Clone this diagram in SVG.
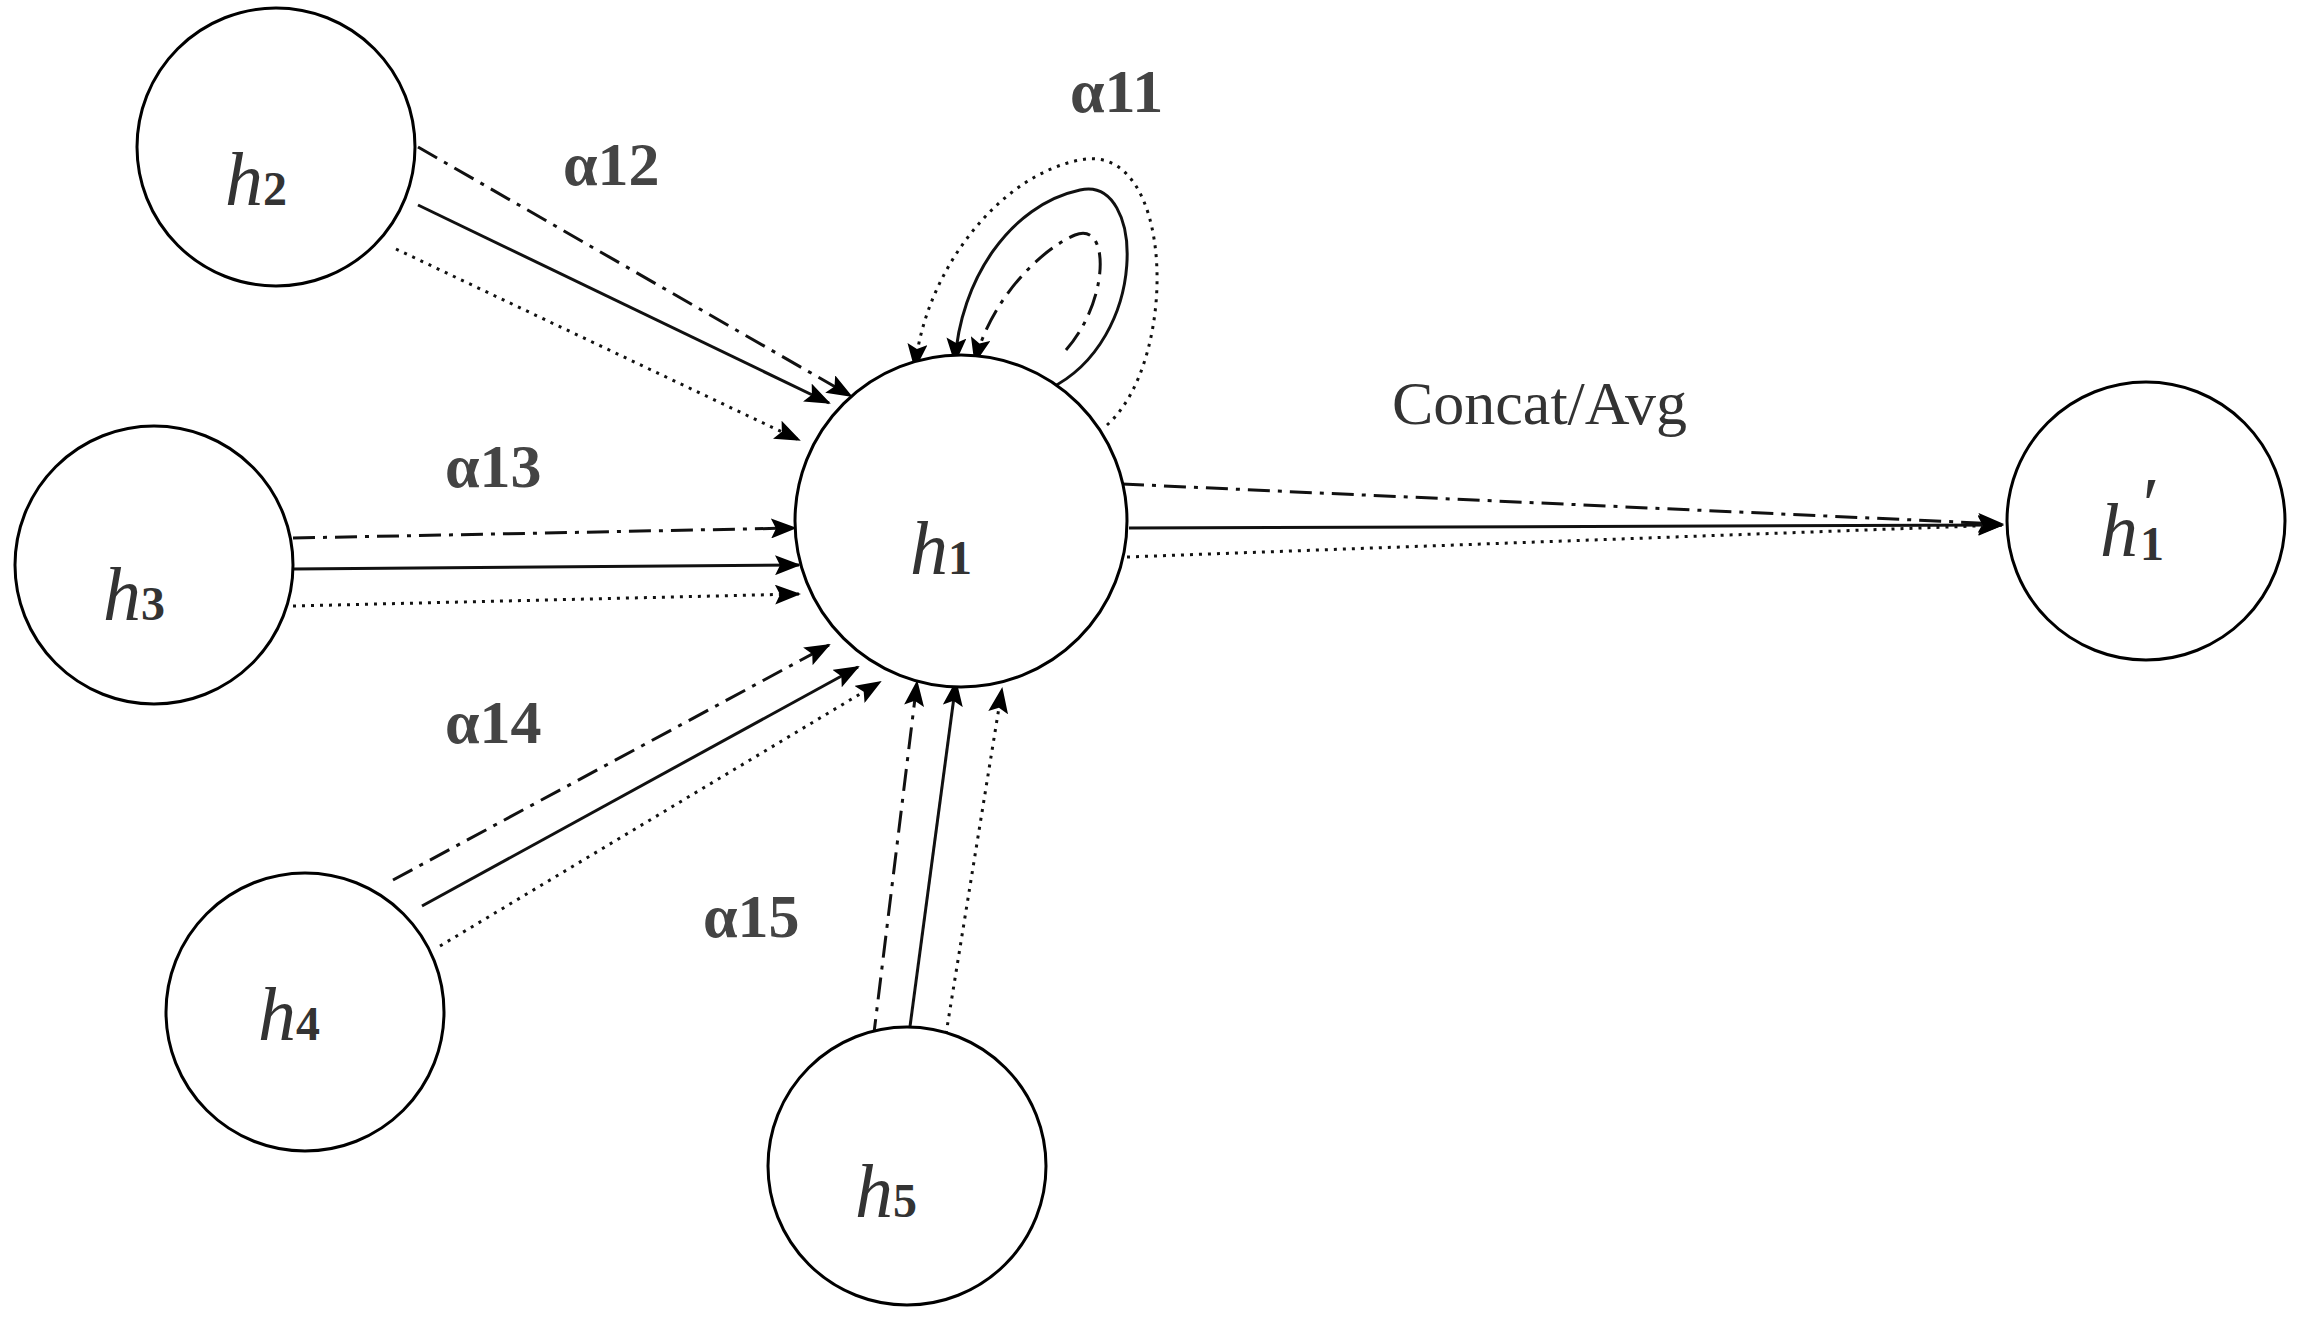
<svg xmlns="http://www.w3.org/2000/svg" width="2300" height="1331" viewBox="0 0 2300 1331">
<style>
.n{fill:#fff;stroke:#000;stroke-width:3}
.e{fill:none;stroke:#111;stroke-width:3}
.dd{stroke-dasharray:22 8 4 8}
.dt{stroke-dasharray:3 6}
.lbl{font-family:"Liberation Serif",serif;fill:#333;font-size:62px}
.h{font-family:"Liberation Serif",serif;font-style:italic;font-size:76px;fill:#333}
.s{font-family:"Liberation Serif",serif;font-style:normal;font-weight:bold;font-size:48px;fill:#333}
.a{font-family:"Liberation Serif",serif;font-size:62px;fill:#444;font-weight:bold}
</style>
<defs>
<marker id="ar" markerWidth="26" markerHeight="20" refX="24" refY="10" orient="auto" markerUnits="userSpaceOnUse" viewBox="0 0 26 20"><path d="M0,0 L26,10 L0,20 L5,10 z" fill="#000"/></marker>
</defs>
<g id="connectors">
<path class="e dd" d="M418,147 L851,396" marker-end="url(#ar)"/>
<path class="e" d="M418,205 L829,403" marker-end="url(#ar)"/>
<path class="e dt" d="M396,249 L799,440" marker-end="url(#ar)"/>
<path class="e dd" d="M293,538 L795,528" marker-end="url(#ar)"/>
<path class="e" d="M293,569 L799,565" marker-end="url(#ar)"/>
<path class="e dt" d="M293,606 L799,594" marker-end="url(#ar)"/>
<path class="e dd" d="M393,880 L829,645" marker-end="url(#ar)"/>
<path class="e" d="M422,906 L858,667" marker-end="url(#ar)"/>
<path class="e dt" d="M440,946 L880,682" marker-end="url(#ar)"/>
<path class="e dd" d="M873,1041 L917,682" marker-end="url(#ar)"/>
<path class="e" d="M909,1034 L956,682" marker-end="url(#ar)"/>
<path class="e dt" d="M946,1034 L1002,689" marker-end="url(#ar)"/>
<path class="e dd" d="M1122,484 L2002,524" marker-end="url(#ar)"/>
<path class="e" d="M1129,528 L2002,525" marker-end="url(#ar)"/>
<path class="e dt" d="M1127,557 L2002,525" marker-end="url(#ar)"/>
<path class="e" d="M1049,389 C1150,340 1145,175 1080,190 C1010,205 960,280 955,362" marker-end="url(#ar)"/>
<path class="e dd" d="M1066,350 C1110,300 1110,220 1075,235 C1040,250 990,300 975,362" marker-end="url(#ar)"/>
<path class="e dt" d="M1107,425 C1180,360 1175,140 1080,160 C1000,175 925,270 915,368" marker-end="url(#ar)"/>
</g>
<g id="h2"><circle class="n" cx="276" cy="147" r="139"/><text class="h" x="225" y="205">h<tspan class="s">2</tspan></text></g>
<g id="h3"><circle class="n" cx="154" cy="565" r="139"/><text class="h" x="103" y="620">h<tspan class="s">3</tspan></text></g>
<g id="h4"><circle class="n" cx="305" cy="1012" r="139"/><text class="h" x="258" y="1040">h<tspan class="s">4</tspan></text></g>
<g id="h5"><circle class="n" cx="907" cy="1166" r="139"/><text class="h" x="855" y="1217">h<tspan class="s">5</tspan></text></g>
<g id="h1"><circle class="n" cx="961" cy="521" r="166"/><text class="h" x="910" y="574">h<tspan class="s">1</tspan></text></g>
<g id="h1p"><circle class="n" cx="2146" cy="521" r="139"/><text class="h" x="2100" y="556">h</text><text class="h" x="2138" y="530" font-size="60">′</text><text class="s" x="2140" y="560">1</text></g>
<g id="labels">
<text class="a" x="1070" y="112">α11</text>
<text class="a" x="563" y="185">α12</text>
<text class="a" x="445" y="487">α13</text>
<text class="a" x="445" y="743">α14</text>
<text class="a" x="703" y="937">α15</text>
<text class="lbl" x="1392" y="424">Concat/Avg</text>
</g>
</svg>
